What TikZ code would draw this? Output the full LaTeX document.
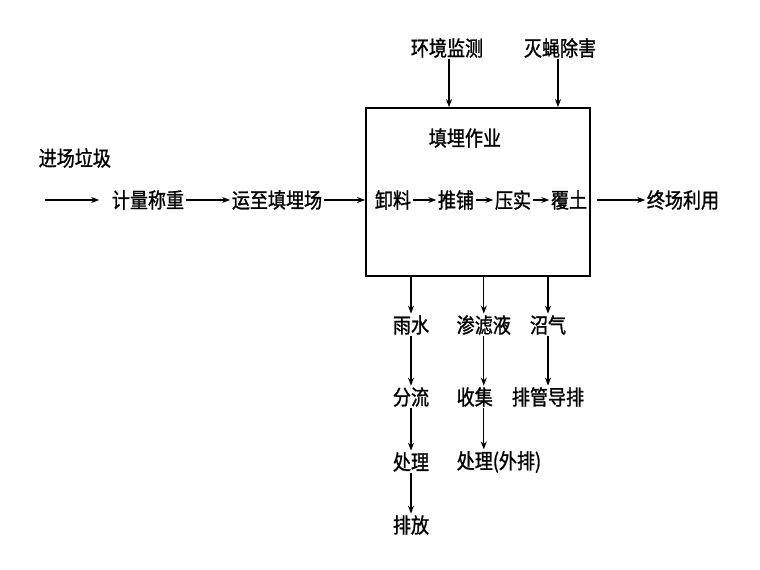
\documentclass[tikz,border=0pt]{standalone}
\usepackage{fontspec}
\setmainfont{Noto Sans CJK SC}[FakeStretch=0.86,FakeBold=1.2]
\usetikzlibrary{arrows.meta}
\tikzset{
  lbl/.style={inner sep=1.5pt, font=\fontsize{21}{23}\selectfont},
  arr/.style={line width=1.2pt, -{Stealth[length=8pt,width=6pt]}},
  boxst/.style={draw, line width=1.8pt, minimum width=224pt, minimum height=168pt, inner sep=0pt}
}
\begin{document}
\begin{tikzpicture}[x=1pt,y=-1pt]
\useasboundingbox (0,0) rectangle (760,570);
\node[boxst] (box) at (478,192) {};
\node[lbl] (title) at (465,138) {填埋作业};
\node[lbl] (hj) at (447,48) {环境监测};
\node[lbl] (my) at (560,48) {灭蝇除害};
\node[lbl,anchor=west] (jc) at (37,158) {进场垃圾};
\coordinate (start) at (45,200);
\node[lbl] (jl) at (148,200) {计量称重};
\node[lbl] (yz) at (277,200) {运至填埋场};
\node[lbl] (xl) at (393,200) {卸料};
\node[lbl] (tp) at (456,200) {推铺};
\node[lbl] (ys) at (513,200) {压实};
\node[lbl] (ft) at (569,200) {覆土};
\node[lbl] (zc) at (683,200) {终场利用};
% bottom columns
\node[lbl] (yu) at (411,325) {雨水};
\node[lbl] (fl) at (411,397) {分流};
\node[lbl] (cl) at (411,462) {处理};
\node[lbl] (pf) at (411,525) {排放};
\node[lbl,anchor=west] (sl) at (455,325) {渗滤液};
\node[lbl,anchor=west] (sj) at (455,397) {收集};
\node[lbl,anchor=west] (clw) at (455,462) {处理(外排)};
\node[lbl] (zq) at (548,325) {沼气};
\node[lbl] (pg) at (548,397) {排管导排};
% arrows
\draw[arr, shorten >=11pt] (start) -- (jl.west);
\draw[arr] (jl.east) -- (yz.west);
\draw[arr] (yz.east) -- (yz.east -| box.west);
\draw[arr] (xl.east) -- (tp.west);
\draw[arr] (tp.east) -- (ys.west);
\draw[arr] (ys.east) -- (ft.west);
\draw[arr, shorten <=6pt] (ft.east -| box.east) -- (zc.west);
\draw[arr] ([xshift=2pt]hj.south) -- ([xshift=2pt]hj.south |- box.north);
\draw[arr] ([xshift=-2pt]my.south) -- ([xshift=-2pt]my.south |- box.north);
\draw[arr] (yu.north |- box.south) -- (yu.north);
\draw[arr] (yu) -- (fl);
\draw[arr] (fl) -- (cl);
\draw[arr] (cl) -- (pf);
\draw[arr] (sl.south |- box.south) -- (sl.north);
\draw[arr] (sl.south) -- (sl.south |- sj.north);
\draw[arr] (sl.south |- sj.south) -- (sl.south |- clw.north);
\draw[arr] (zq.north |- box.south) -- (zq.north);
\draw[arr] (zq) -- (pg);
\end{tikzpicture}
\end{document}
